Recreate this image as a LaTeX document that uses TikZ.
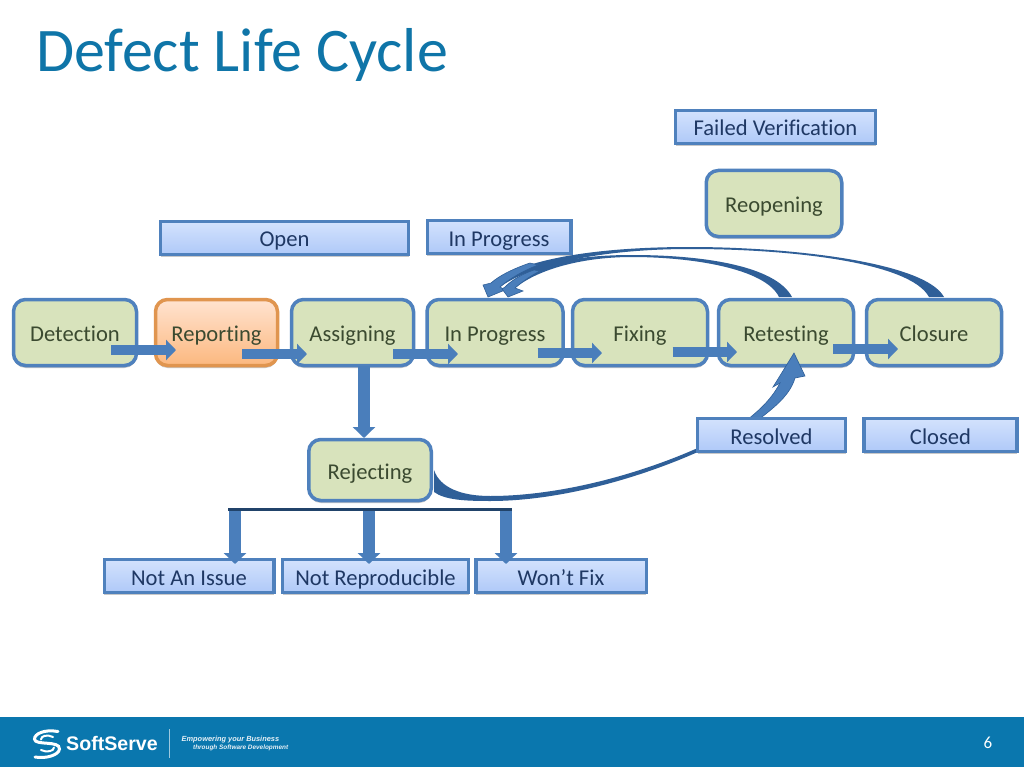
\documentclass[tikz,border=0pt]{standalone}
\usepackage{fontspec}
\setmainfont[Ligatures=NoCommon]{Carlito}
\newfontfamily\footfont{Liberation Sans}
\usetikzlibrary{arrows.meta,shadows,calc}
\definecolor{edgeblue}{HTML}{4F81BD}
\definecolor{arrowblue}{HTML}{4A7EBB}
\definecolor{curveblue}{HTML}{2F5F98}
\definecolor{titleblue}{HTML}{0F75A8}
\definecolor{footerblue}{HTML}{0A77AE}
\definecolor{stagegreen}{HTML}{D8E3BC}
\definecolor{stagetext}{HTML}{3B4A30}
\definecolor{labeltext}{HTML}{1F3864}
\definecolor{labeltop}{HTML}{D3E2FD}
\definecolor{labelbot}{HTML}{AFC9F8}
\definecolor{hottop}{HTML}{FFE3D0}
\definecolor{hotbot}{HTML}{FCB87F}
\definecolor{hotedge}{HTML}{E0954F}
\tikzset{
  softshadow/.style={drop shadow={shadow xshift=0pt,shadow yshift=-2.5pt,opacity=.3,fill=black!70}},
  boxtext/.style={font=\fontsize{22.6}{26}\selectfont,text height=18pt,text depth=0pt},
  stage/.style={draw=edgeblue,line width=3.5pt,rounded corners=12pt,fill=stagegreen,
    minimum height=66pt,inner sep=0pt,outer sep=0pt,text=stagetext,boxtext,softshadow},
  hotstage/.style={stage,draw=hotedge,top color=hottop,bottom color=hotbot,fill=none},
  statuslabel/.style={draw=edgeblue,line width=3.5pt,top color=labeltop,bottom color=labelbot,
    minimum height=33pt,inner sep=0pt,outer sep=0pt,text=labeltext,boxtext,softshadow},
  blockarrow/.style={draw=arrowblue,line width=10pt,-{Triangle[length=10pt,width=20pt]}},
  droparrow/.style={draw=arrowblue,line width=12pt,-{Triangle[length=11pt,width=22pt]}},
  curvearrow/.style={fill=curveblue,draw=none},
  arrowhead/.style={fill=arrowblue,draw=curveblue,line width=.6pt,line join=miter},
}
\begin{document}
\begin{tikzpicture}[x=1pt,y=-1pt]
\useasboundingbox (0,0) rectangle (1024,767);
\fill[white] (0,0) rectangle (1024,767);

% footer
\fill[footerblue] (0,717) rectangle (1024,767);
\node[text=titleblue,anchor=west,inner sep=0pt,font=\fontsize{62}{66}\selectfont] (title) at (36,55) {Defect Life Cycle};
\node[text=white,inner sep=0pt,font=\fontsize{17}{20}\selectfont] (pagenum) at (988,743) {6};
\node[text=white,anchor=west,inner sep=0pt,font=\footfont\bfseries\fontsize{19.6}{22}\selectfont] (brand) at (66,743.5) {SoftServe};
\draw[white!60!footerblue,line width=.8pt] (169.5,729) -- (169.5,758);
\node[text=white!90!footerblue,anchor=west,inner sep=0pt,font=\footfont\bfseries\itshape\fontsize{7.4}{9}\selectfont] (slog1) at (181.5,739.5) {Empowering your Business};
\node[text=white!90!footerblue,anchor=west,inner sep=0pt,font=\footfont\bfseries\itshape\fontsize{6.4}{8}\selectfont] (slog2) at (193,748) {through Software Development};
% logo swirl
\draw[white,line width=3pt,line cap=round] (58,731.5) .. controls (44,729) and (34.5,734) .. (34.5,739) .. controls (34.5,746) and (60,740) .. (59.5,749) .. controls (59,755) and (46,759) .. (35,757);
\draw[white,line width=2pt,line cap=round] (53,737) .. controls (47,734) and (41,736) .. (41,739.5);
\draw[white,line width=2pt,line cap=round] (41,750) .. controls (47,753) and (54,751) .. (54,747.5);

% process stages
\node[stage,minimum width=123pt] (detection) at (75,332.5) {Detection};
\node[hotstage,minimum width=122pt] (reporting) at (216.5,332.5) {Reporting};
\node[stage,minimum width=122pt] (assigning) at (352.5,332.5) {Assigning};
\node[stage,minimum width=136pt] (progress) at (495,332.5) {In Progress};
\node[stage,minimum width=135pt] (fixing) at (640,332.5) {Fixing};
\node[stage,minimum width=135pt] (retesting) at (786,332.5) {Retesting};
\node[stage,minimum width=135pt] (closure) at (934,332.5) {Closure};
\node[stage,minimum width=135.5pt] (reopening) at (774,203.5) {Reopening};
\node[stage,minimum width=122.5pt,minimum height=61pt] (rejecting) at (370,470) {Rejecting};

% status labels
\node[statuslabel,minimum width=200pt] (failed) at (775.5,127) {Failed Verification};
\node[statuslabel,minimum width=248pt] (open) at (284.5,238) {Open};
\node[statuslabel,minimum width=143.5pt] (inprog) at (499,237) {In Progress};
\node[statuslabel,minimum width=153pt] (closed) at (940.5,435) {Closed};
\node[statuslabel,minimum width=169.5pt] (notissue) at (189,576) {Not An Issue};
\node[statuslabel,minimum width=186pt] (notrepro) at (375.5,576) {Not Reproducible};
\node[statuslabel,minimum width=170.5pt] (wontfix) at (561,576) {Won’t Fix};

% curved arrow Rejecting -> Retesting, passing behind Resolved
\fill[curvearrow] (434,470) .. controls (440,488) and (462,496) .. (490,496)
  .. controls (560,496) and (640,474) .. (700,447) -- (700,451)
  .. controls (640,478) and (560,501) .. (490,501) .. controls (465,501) and (445,500) .. (434,492) -- cycle;
\draw[arrowhead] (747,420) .. controls (762,408) and (772,398) .. (780,383) -- (773,387) -- (794,353) -- (805,376) -- (795,378)
  .. controls (790,395) and (775,407) .. (758,420) -- cycle;
\node[statuslabel,minimum width=148pt] (resolved) at (771.5,435) {Resolved};

% straight block arrows between stages
\coordinate (a1s) at (111,350); \coordinate (a1e) at (176,350);
\coordinate (a2s) at (242,354); \coordinate (a2e) at (307,354);
\coordinate (a3s) at (393,354); \coordinate (a3e) at (458,354);
\coordinate (a4s) at (537.5,353); \coordinate (a4e) at (602,353);
\coordinate (a5s) at (672.5,352); \coordinate (a5e) at (737,352);
\coordinate (a6s) at (833,349); \coordinate (a6e) at (898,349);
\draw[blockarrow] (a1s) -- (a1e);
\draw[blockarrow] (a2s) -- (a2e);
\draw[blockarrow] (a3s) -- (a3e);
\draw[blockarrow] (a4s) -- (a4e);
\draw[blockarrow] (a5s) -- (a5e);
\draw[blockarrow] (a6s) -- (a6e);

% Assigning -> Rejecting
\coordinate (d0e) at (364,438);
\draw[droparrow] (assigning.south -| d0e) -- (d0e);

% fan-out under Rejecting
\coordinate (busl) at (228,509.5);
\coordinate (busr) at (511.5,509.5);
\coordinate (d1s) at (235,509); \coordinate (d1e) at (235,564);
\coordinate (d2s) at (369,509); \coordinate (d2e) at (369,564);
\coordinate (d3s) at (506,509); \coordinate (d3e) at (506,564);
\draw[droparrow] (d1s) -- (d1e);
\draw[droparrow] (d2s) -- (d2e);
\draw[droparrow] (d3s) -- (d3e);
\draw[curveblue!70!black,line width=3pt] (busl) -- (busr);

% curved arrows back to In Progress
\fill[curvearrow] (944,297) .. controls (925,262) and (790,247) .. (690,247)
  .. controls (600,247) and (525,258) .. (491,283) -- (500,287)
  .. controls (530,265) and (600,249) .. (690,249) .. controls (790,249) and (910,262) .. (929,297) -- cycle;
\draw[arrowhead] (491,283) -- (483,285) -- (488,297) -- (505,290) -- (500,287) .. controls (510,278) and (525,270) .. (538,265) -- (530,263) .. controls (515,268) and (500,275) .. (491,283) -- cycle;
\fill[curvearrow] (792,297) .. controls (775,265) and (700,255) .. (632,255)
  .. controls (575,255) and (530,264) .. (505,287) -- (515,288)
  .. controls (540,268) and (585,257) .. (632,257) .. controls (690,257) and (765,268) .. (779,297) -- cycle;
\draw[arrowhead] (505,287) -- (502,289) -- (508,297) -- (523,291) -- (515,288) .. controls (522,282) and (530,276) .. (540,271) -- (534,270) .. controls (522,274) and (512,280) .. (505,287) -- cycle;
\end{tikzpicture}
\end{document}
